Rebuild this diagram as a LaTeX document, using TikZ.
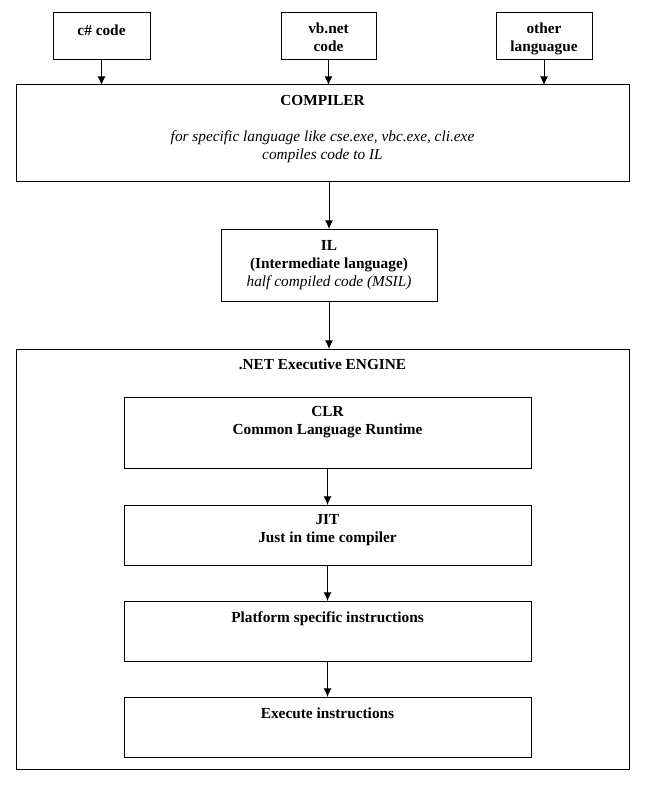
\documentclass[tikz,border=0pt]{standalone}
\usepackage{fontspec}
\setmainfont{Liberation Serif}
\usetikzlibrary{arrows.meta}
\newlength{\pxu}\setlength{\pxu}{0.75pt}
\begin{document}
\begin{tikzpicture}[
x=0.75pt,y=-0.75pt,
box/.style={draw,line width=0.75pt,inner sep=0,outer sep=0},
title/.style={anchor=north,align=center,inner sep=0,font=\fontsize{11.5}{13.5}\selectfont\bfseries,execute at begin node=\strut},
flow/.style={-{Latex[length=6.5pt,width=6pt]},line width=0.75pt},
]
\useasboundingbox (0,0) rectangle (648,788);
%languages
\node[box,minimum width=97\pxu,minimum height=47\pxu](csharp)at(101.5,36.5){};
\node[title](csharptext)at(101.5,23){c\# code};
\node[box,minimum width=95\pxu,minimum height=47\pxu](vbnet)at(328.5,36.5){};
\node[title](vbnettext)at(328.5,23){vb.net\\code};
\node[box,minimum width=96\pxu,minimum height=47\pxu](other)at(544,36.5){};
\node[title](othertext)at(544,23){other\\languague};

%compiler
\node[box,minimum width=613\pxu,minimum height=96\pxu](compiler)at(322.5,133){};
\node[title](compilertext)at(322.5,95){COMPILER\\[13.5pt]\textmd{\textit{for specific language like cse.exe, vbc.exe, cli.exe}}\\\textmd{\textit{compiles code to IL}}};

%intermediate language
\node[box,minimum width=216\pxu,minimum height=72\pxu](il)at(329,265){};
\node[title](iltext)at(329,240){IL\\(Intermediate language)\\\textmd{\textit{half compiled code (MSIL)}}};

%engine
\node[box,minimum width=613\pxu,minimum height=420\pxu](engine)at(322.5,559){};
\node[title](enginetext)at(322.5,357){.NET Executive ENGINE};
\node[box,minimum width=407\pxu,minimum height=71\pxu](clr)at(327.5,432.5){};
\node[title](clrtext)at(327.5,406){CLR\\Common Language Runtime};
\node[box,minimum width=407\pxu,minimum height=60\pxu](jit)at(327.5,535){};
\node[title](jittext)at(327.5,514){JIT\\Just in time compiler};
\node[box,minimum width=407\pxu,minimum height=60\pxu](platform)at(327.5,631){};
\node[title](platformtext)at(327.5,610){Platform specific instructions};
\node[box,minimum width=407\pxu,minimum height=60\pxu](execute)at(327.5,727){};
\node[title](executetext)at(327.5,706){Execute instructions};

%arrows
\draw[flow](csharp)--(csharp|-compiler.north);
\draw[flow](vbnet)--(vbnet|-compiler.north);
\draw[flow](other)--(other|-compiler.north);
\draw[flow](compiler.south-|il)--(il);
\draw[flow](il)--(il|-engine.north);
\draw[flow](clr)--(jit);
\draw[flow](jit)--(platform);
\draw[flow](platform)--(execute);

\end{tikzpicture}
\end{document}
